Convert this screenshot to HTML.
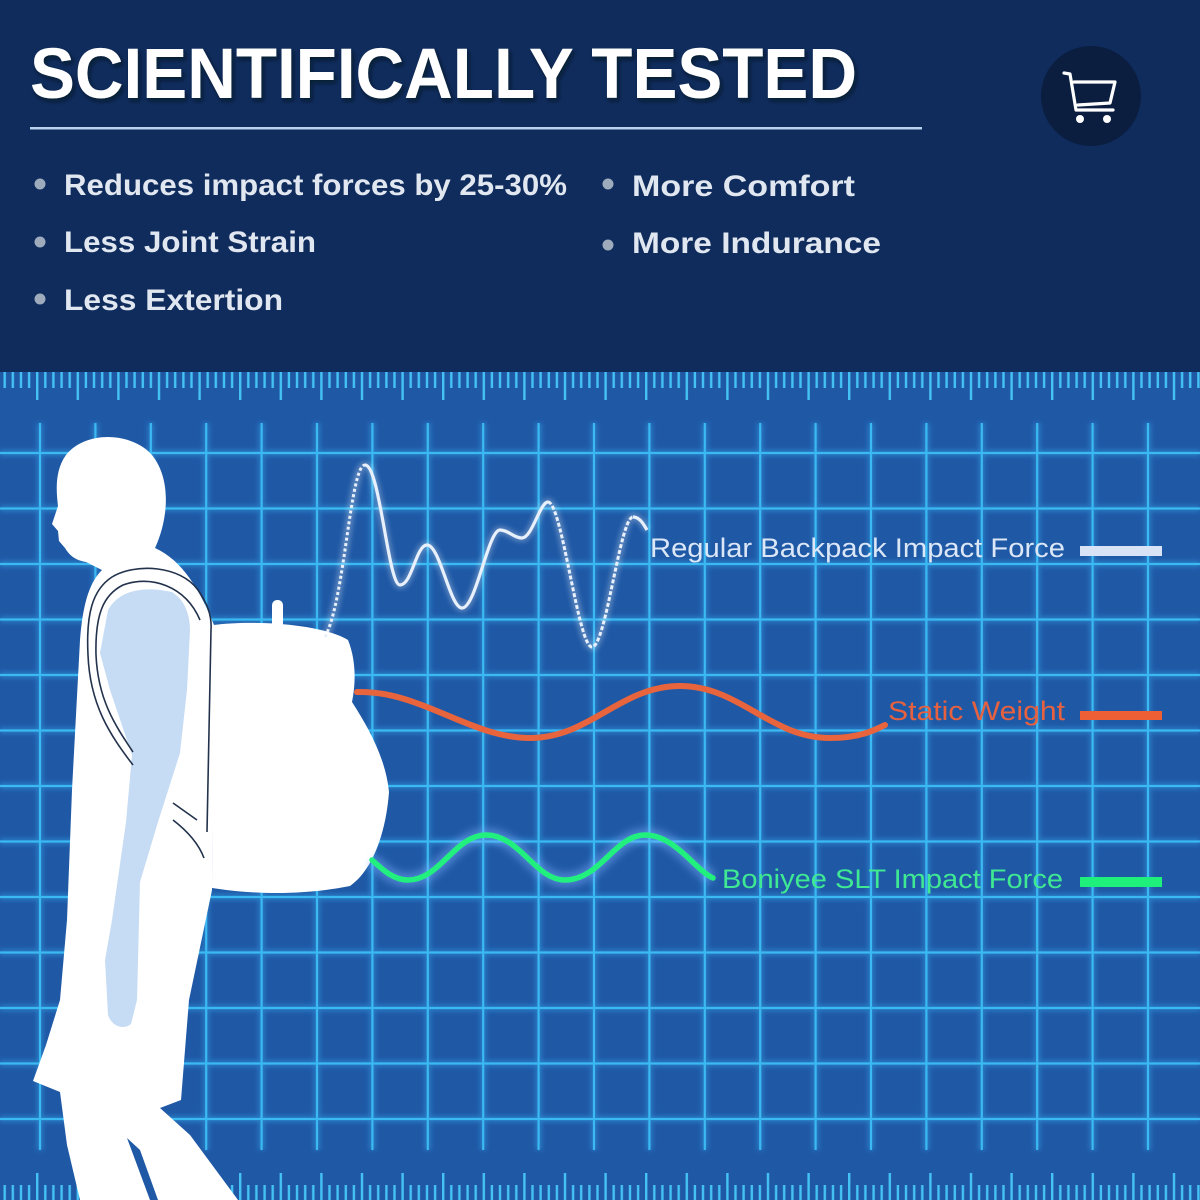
<!DOCTYPE html>
<html>
<head>
<meta charset="utf-8">
<style>
html,body{margin:0;padding:0;background:#0f2c5c;}
svg{display:block;}
text{font-family:"Liberation Sans",sans-serif;}
</style>
</head>
<body>
<svg width="1200" height="1200" viewBox="0 0 1200 1200" xmlns="http://www.w3.org/2000/svg">
<defs>
  <filter id="glow" x="-5%" y="-5%" width="110%" height="110%">
    <feGaussianBlur stdDeviation="2.5"/>
  </filter>
  <filter id="glow2" x="-20%" y="-50%" width="140%" height="200%">
    <feGaussianBlur stdDeviation="4"/>
  </filter>
  <filter id="tshadow" x="-5%" y="-20%" width="110%" height="140%">
    <feDropShadow dx="2" dy="3" stdDeviation="2" flood-color="#000814" flood-opacity="0.6"/>
  </filter>
  <pattern id="rt" patternUnits="userSpaceOnUse" x="36" y="372" width="40.6" height="30">
    <line x1="1.2" y1="0" x2="1.2" y2="28" stroke="#45c2f4" stroke-width="2.4"/>
    <line x1="9.3" y1="0" x2="9.3" y2="16" stroke="#45c2f4" stroke-width="2.4"/>
    <line x1="17.4" y1="0" x2="17.4" y2="16" stroke="#45c2f4" stroke-width="2.4"/>
    <line x1="25.6" y1="0" x2="25.6" y2="16" stroke="#45c2f4" stroke-width="2.4"/>
    <line x1="33.7" y1="0" x2="33.7" y2="16" stroke="#45c2f4" stroke-width="2.4"/>
  </pattern>
  <pattern id="rb" patternUnits="userSpaceOnUse" x="36" y="1170" width="40.6" height="30">
    <line x1="1.2" y1="3" x2="1.2" y2="30" stroke="#45c2f4" stroke-width="2.4"/>
    <line x1="9.3" y1="15" x2="9.3" y2="30" stroke="#45c2f4" stroke-width="2.4"/>
    <line x1="17.4" y1="15" x2="17.4" y2="30" stroke="#45c2f4" stroke-width="2.4"/>
    <line x1="25.6" y1="15" x2="25.6" y2="30" stroke="#45c2f4" stroke-width="2.4"/>
    <line x1="33.7" y1="15" x2="33.7" y2="30" stroke="#45c2f4" stroke-width="2.4"/>
  </pattern>
</defs>

<!-- header -->
<rect x="0" y="0" width="1200" height="372" fill="#0f2c5c"/>
<!-- blue panel -->
<rect x="0" y="372" width="1200" height="828" fill="#1f59a6"/>

<!-- rulers -->
<rect x="0" y="372" width="1200" height="30" fill="url(#rt)"/>
<rect x="0" y="1170" width="1200" height="30" fill="url(#rb)"/>

<!-- grid glow -->
<g stroke="#3cc0ff" stroke-width="6" opacity="0.35" filter="url(#glow)">
  <line x1="40" y1="423" x2="40" y2="1150"/><line x1="95.4" y1="423" x2="95.4" y2="1150"/>
  <line x1="150.8" y1="423" x2="150.8" y2="1150"/><line x1="206.2" y1="423" x2="206.2" y2="1150"/>
  <line x1="261.6" y1="423" x2="261.6" y2="1150"/><line x1="317" y1="423" x2="317" y2="1150"/>
  <line x1="372.4" y1="423" x2="372.4" y2="1150"/><line x1="427.8" y1="423" x2="427.8" y2="1150"/>
  <line x1="483.2" y1="423" x2="483.2" y2="1150"/><line x1="538.6" y1="423" x2="538.6" y2="1150"/>
  <line x1="594" y1="423" x2="594" y2="1150"/><line x1="649.4" y1="423" x2="649.4" y2="1150"/>
  <line x1="704.8" y1="423" x2="704.8" y2="1150"/><line x1="760.2" y1="423" x2="760.2" y2="1150"/>
  <line x1="815.6" y1="423" x2="815.6" y2="1150"/><line x1="871" y1="423" x2="871" y2="1150"/>
  <line x1="926.4" y1="423" x2="926.4" y2="1150"/><line x1="981.8" y1="423" x2="981.8" y2="1150"/>
  <line x1="1037.2" y1="423" x2="1037.2" y2="1150"/><line x1="1092.6" y1="423" x2="1092.6" y2="1150"/>
  <line x1="1148" y1="423" x2="1148" y2="1150"/>
  <line x1="0" y1="453" x2="1200" y2="453"/><line x1="0" y1="508.5" x2="1200" y2="508.5"/>
  <line x1="0" y1="564" x2="1200" y2="564"/><line x1="0" y1="619.5" x2="1200" y2="619.5"/>
  <line x1="0" y1="675" x2="1200" y2="675"/><line x1="0" y1="730.5" x2="1200" y2="730.5"/>
  <line x1="0" y1="786" x2="1200" y2="786"/><line x1="0" y1="841.5" x2="1200" y2="841.5"/>
  <line x1="0" y1="897" x2="1200" y2="897"/><line x1="0" y1="952.5" x2="1200" y2="952.5"/>
  <line x1="0" y1="1008" x2="1200" y2="1008"/><line x1="0" y1="1063.5" x2="1200" y2="1063.5"/>
  <line x1="0" y1="1119" x2="1200" y2="1119"/>
</g>
<!-- grid -->
<g stroke="#3bb9f2" stroke-width="2.2">
  <line x1="40" y1="423" x2="40" y2="1150"/><line x1="95.4" y1="423" x2="95.4" y2="1150"/>
  <line x1="150.8" y1="423" x2="150.8" y2="1150"/><line x1="206.2" y1="423" x2="206.2" y2="1150"/>
  <line x1="261.6" y1="423" x2="261.6" y2="1150"/><line x1="317" y1="423" x2="317" y2="1150"/>
  <line x1="372.4" y1="423" x2="372.4" y2="1150"/><line x1="427.8" y1="423" x2="427.8" y2="1150"/>
  <line x1="483.2" y1="423" x2="483.2" y2="1150"/><line x1="538.6" y1="423" x2="538.6" y2="1150"/>
  <line x1="594" y1="423" x2="594" y2="1150"/><line x1="649.4" y1="423" x2="649.4" y2="1150"/>
  <line x1="704.8" y1="423" x2="704.8" y2="1150"/><line x1="760.2" y1="423" x2="760.2" y2="1150"/>
  <line x1="815.6" y1="423" x2="815.6" y2="1150"/><line x1="871" y1="423" x2="871" y2="1150"/>
  <line x1="926.4" y1="423" x2="926.4" y2="1150"/><line x1="981.8" y1="423" x2="981.8" y2="1150"/>
  <line x1="1037.2" y1="423" x2="1037.2" y2="1150"/><line x1="1092.6" y1="423" x2="1092.6" y2="1150"/>
  <line x1="1148" y1="423" x2="1148" y2="1150"/>
  <line x1="0" y1="453" x2="1200" y2="453"/><line x1="0" y1="508.5" x2="1200" y2="508.5"/>
  <line x1="0" y1="564" x2="1200" y2="564"/><line x1="0" y1="619.5" x2="1200" y2="619.5"/>
  <line x1="0" y1="675" x2="1200" y2="675"/><line x1="0" y1="730.5" x2="1200" y2="730.5"/>
  <line x1="0" y1="786" x2="1200" y2="786"/><line x1="0" y1="841.5" x2="1200" y2="841.5"/>
  <line x1="0" y1="897" x2="1200" y2="897"/><line x1="0" y1="952.5" x2="1200" y2="952.5"/>
  <line x1="0" y1="1008" x2="1200" y2="1008"/><line x1="0" y1="1063.5" x2="1200" y2="1063.5"/>
  <line x1="0" y1="1119" x2="1200" y2="1119"/>
</g>

<!-- header content -->
<text x="30" y="98" font-size="71" font-weight="bold" fill="#ffffff" textLength="827" lengthAdjust="spacingAndGlyphs" filter="url(#tshadow)">SCIENTIFICALLY TESTED</text>
<rect x="30" y="127" width="892" height="2.5" fill="#b8d2ef"/>

<g fill="#9eabbd">
  <circle cx="40" cy="184" r="5.5"/>
  <circle cx="40" cy="242" r="5.5"/>
  <circle cx="40" cy="299" r="5.5"/>
  <circle cx="608" cy="184" r="5.5"/>
  <circle cx="608" cy="245" r="5.5"/>
</g>
<g fill="#e1e7f0" font-size="30" font-weight="bold">
  <text x="64" y="195" textLength="503" lengthAdjust="spacingAndGlyphs">Reduces impact forces by 25-30%</text>
  <text x="64" y="252" textLength="252" lengthAdjust="spacingAndGlyphs">Less Joint Strain</text>
  <text x="64" y="310" textLength="219" lengthAdjust="spacingAndGlyphs">Less Extertion</text>
  <text x="632" y="196" textLength="223" lengthAdjust="spacingAndGlyphs">More Comfort</text>
  <text x="632" y="253" textLength="249" lengthAdjust="spacingAndGlyphs">More Indurance</text>
</g>

<!-- cart -->
<circle cx="1091" cy="96" r="50" fill="#0b1e40"/>
<g fill="none" stroke="#ffffff" stroke-width="3.2" stroke-linecap="round" stroke-linejoin="round">
  <path d="M1064 73 L1070 74 L1076 110 L1113 110"/>
  <path d="M1074 82 L1115 82 L1110 103 L1078 105"/>
</g>
<circle cx="1080" cy="119" r="4" fill="#ffffff"/>
<circle cx="1107" cy="119" r="4" fill="#ffffff"/>

<!-- person silhouette -->
<path fill="#ffffff" d="M155 548 C168 520 172 480 152 455 C132 432 86 430 66 455 C55 470 56 490 58 506 L52 524 L58 531 L59 541 L65 548 C70 556 75 560 86 562 L102 570 C90 582 83 602 80 640 L72 790 L67 920 L60 1000 L46 1045 L33 1081 L60 1092 L67 1145 L80 1200 L238 1200 L190 1135 L160 1108 L181 1100 L189 1000 L212 890 L214 625 C200 590 182 560 155 548 Z"/>
<!-- gap between legs -->
<path fill="#1f59a6" d="M127 1138 L140 1150 L158 1200 L150 1200 Z"/>

<!-- arm -->
<path fill="#c6dcf4" d="M100 653 L108 610 C118 592 140 585 172 592 C185 600 190 615 190 630 L187 690 L180 753 L158 822 L140 882 L137 1000 L131 1024 C124 1030 112 1027 108 1015 L105 960 L112 920 L126 822 L132 755 L110 690 Z"/>

<!-- backpack -->
<path fill="#ffffff" d="M213 625 C250 620 320 623 348 640 C356 660 356 682 352 702 C370 730 386 760 389 792 C386 832 373 870 350 886 C300 896 250 894 212 888 Z"/>
<rect x="272" y="600" width="11" height="30" rx="5" fill="#ffffff"/>

<!-- strap lines -->
<g fill="none" stroke="#22324c" stroke-width="1.6">
  <path d="M133 765 C110 735 90 705 88 655 C86 615 92 590 112 577 C135 563 180 565 198 590 C207 603 212 615 211 630 L207 832"/>
  <path d="M133 752 C115 725 98 700 96 655 C95 615 103 595 123 585 C150 575 185 585 200 620"/>
  <path d="M173 803 L197 820 M173 820 C186 830 198 842 204 858"/>
</g>

<!-- Regular wave (white) -->
<path fill="none" stroke="#ffffff" stroke-width="8" opacity="0.25" filter="url(#glow)" d="M325 637 C345 600 350 465 365 465 C380 465 388 585 400 585 C412 585 416 545 427 545 C440 545 450 608 462 608 C476 608 488 530 500 530 C508 530 514 538 522 538 C532 538 540 502 548 502 C562 502 578 647 592 647 C606 647 620 517 633 517 C640 517 644 525 647 530"/>
<path fill="none" stroke="#e8f0fb" stroke-width="3" stroke-dasharray="3 2.5" d="M325 637 C345 600 350 465 365 465"/>
<path fill="none" stroke="#e8f0fb" stroke-width="3.2" d="M365 465 C380 465 388 585 400 585 C412 585 416 545 427 545 C440 545 450 608 462 608 C476 608 488 530 500 530 C508 530 514 538 522 538 C532 538 540 502 548 502"/>
<path fill="none" stroke="#e8f0fb" stroke-width="3" stroke-dasharray="4 2" d="M548 502 C562 502 578 647 592 647 C606 647 620 517 633 517"/>
<path fill="none" stroke="#e8f0fb" stroke-width="3.2" d="M633 517 C640 517 644 525 647 530"/>

<!-- Static weight (orange) -->
<path fill="none" stroke="#e8643c" stroke-width="6" stroke-linecap="round" d="M357 692 C420 690 470 738 530 738 C590 738 620 686 680 686 C740 686 770 738 830 738 C860 738 875 730 885 725"/>

<!-- Boniyee (green) -->
<path fill="none" stroke="#7fb0ff" stroke-width="14" opacity="0.45" filter="url(#glow2)" d="M372 860 C385 872 395 880 408 880 C440 880 455 835 486 835 C520 835 535 880 565 880 C600 880 615 835 645 835 C675 835 695 870 713 878"/>
<path fill="none" stroke="#22f07e" stroke-width="5.5" stroke-linecap="round" d="M372 860 C385 872 395 880 408 880 C440 880 455 835 486 835 C520 835 535 880 565 880 C600 880 615 835 645 835 C675 835 695 870 713 878"/>

<!-- legends -->
<text x="650" y="557" font-size="27" fill="#dbe7f7" textLength="415" lengthAdjust="spacingAndGlyphs">Regular Backpack Impact Force</text>
<rect x="1080" y="546" width="82" height="10" fill="#d8e4f6"/>

<text x="888" y="720" font-size="27" fill="#e8613f" textLength="177" lengthAdjust="spacingAndGlyphs">Static Weight</text>
<rect x="1080" y="711" width="82" height="9" fill="#ef5f36"/>

<text x="722" y="888" font-size="27" fill="#3fe893" textLength="341" lengthAdjust="spacingAndGlyphs">Boniyee SLT Impact Force</text>
<rect x="1080" y="877" width="82" height="10" fill="#1ff07c"/>
</svg>
</body>
</html>
